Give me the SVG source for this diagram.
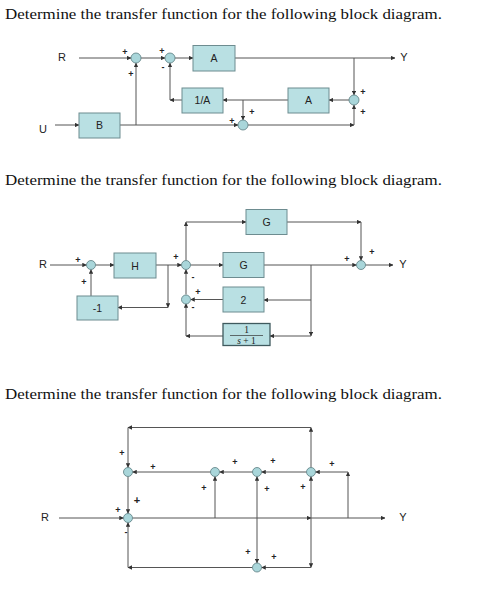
<svg xmlns="http://www.w3.org/2000/svg" width="499" height="592" viewBox="0 0 499 592">
<defs>
<marker id="ah" viewBox="0 0 8 8" refX="7.5" refY="4" markerWidth="4.5" markerHeight="4.5" orient="auto" markerUnits="userSpaceOnUse">
<path d="M0,0 L8,4 L0,8 z" fill="#333"/>
</marker>
<style>
.title{font-family:"Liberation Serif","Times New Roman",serif;font-size:15.5px;fill:#111}
.lbl{font-family:"Liberation Sans",Arial,sans-serif;font-size:11px;fill:#222;text-anchor:middle}
.bl{font-family:"Liberation Sans",Arial,sans-serif;font-size:10.5px;fill:#222;text-anchor:middle}
.sg{font-family:"Liberation Sans",Arial,sans-serif;font-size:9px;font-weight:bold;fill:#222;text-anchor:middle}
.blk{fill:#b9e0e3;stroke:#6d8c90;stroke-width:1}
.blkd{fill:#b9e0e3;stroke:#3f5a5e;stroke-width:1.3}
.sum{fill:#a9d6da;stroke:#5a7c80;stroke-width:0.8}
.c path{fill:none;stroke:#555;stroke-width:1;marker-end:url(#ah)}
</style>
</defs>
<rect width="499" height="592" fill="#fff"/>

<text class="title" x="5" y="19" textLength="437" lengthAdjust="spacingAndGlyphs">Determine the transfer function for the following block diagram.</text>
<text class="title" x="5" y="185" textLength="437" lengthAdjust="spacingAndGlyphs">Determine the transfer function for the following block diagram.</text>
<text class="title" x="5" y="399" textLength="437" lengthAdjust="spacingAndGlyphs">Determine the transfer function for the following block diagram.</text>

<!-- Diagram 1 -->
<g id="d1-connectors" class="c">
<path d="M79,58 H131"/>
<path d="M141,58 H165"/>
<path d="M175,58 H193"/>
<path d="M235,58 H395"/>
<path d="M354,58 V95"/>
<path d="M349,100 H329"/>
<path d="M288,100 H223"/>
<path d="M243,100 V120"/>
<path d="M182,100 H170"/>
<path d="M170,100 V63"/>
<path d="M55,125 H79"/>
<path d="M120,125 H238"/>
<path d="M136,125 V63"/>
<path d="M248,125 H354"/>
<path d="M354,125 V105"/>
</g>
<g id="d1-R"><text class="lbl" x="62" y="61">R</text></g>
<g id="d1-U"><text class="lbl" x="43" y="133">U</text></g>
<g id="d1-Y"><text class="lbl" x="404" y="61">Y</text></g>
<g id="d1-s1"><circle class="sum" cx="136" cy="58" r="5"/><text class="sg" x="125" y="55">+</text><text class="sg" x="131" y="77">+</text></g>
<g id="d1-s2"><circle class="sum" cx="170" cy="58" r="5"/><text class="sg" x="162" y="54">+</text><text class="sg" x="163" y="70">-</text></g>
<g id="d1-A1"><rect class="blk" x="193" y="45.5" width="42" height="25.5"/><text class="bl" x="214" y="62">A</text></g>
<g id="d1-invA"><rect class="blk" x="182" y="88" width="41" height="25"/><text class="bl" x="202.5" y="104">1/A</text></g>
<g id="d1-A2"><rect class="blk" x="288" y="88" width="41" height="25"/><text class="bl" x="308.5" y="104">A</text></g>
<g id="d1-s3"><circle class="sum" cx="354" cy="100" r="5"/><text class="sg" x="363" y="95">+</text><text class="sg" x="363" y="115">+</text></g>
<g id="d1-B"><rect class="blk" x="79" y="113" width="41" height="25"/><text class="bl" x="99.5" y="129">B</text></g>
<g id="d1-s4"><circle class="sum" cx="243" cy="125" r="5"/><text class="sg" x="232" y="124">+</text><text class="sg" x="252" y="115">+</text></g>

<!-- Diagram 2 -->
<g id="d2-connectors" class="c">
<path d="M50,265 H86.5"/>
<path d="M95.5,265 H114"/>
<path d="M156,265 H181.5"/>
<path d="M168,265 V307.5"/>
<path d="M168,307.5 H118"/>
<path d="M77,307.5 H91"/>
<path d="M91,307.5 V269.5"/>
<path d="M186,260.5 V222"/>
<path d="M186,222 H246"/>
<path d="M190.5,265 H223"/>
<path d="M287,222 H361"/>
<path d="M361,222 V260.5"/>
<path d="M264,265 H356.5"/>
<path d="M365.5,265 H393"/>
<path d="M311,265 V336"/>
<path d="M311,336 H270"/>
<path d="M311,300 H264"/>
<path d="M223,299.5 H190.5"/>
<path d="M223,336 H186"/>
<path d="M186,336 V303.5"/>
<path d="M186,294.5 V269.5"/>
</g>
<g id="d2-R"><text class="lbl" x="43" y="268">R</text></g>
<g id="d2-Y"><text class="lbl" x="403" y="268">Y</text></g>
<g id="d2-sa"><circle class="sum" cx="91" cy="265" r="4.5"/><text class="sg" x="78" y="263">+</text><text class="sg" x="84" y="285">+</text></g>
<g id="d2-H"><rect class="blk" x="114" y="253" width="42" height="25"/><text class="bl" x="135" y="269.5">H</text></g>
<g id="d2-m1"><rect class="blk" x="77" y="296" width="41" height="24"/><text class="bl" x="97.5" y="312">-1</text></g>
<g id="d2-sb"><circle class="sum" cx="186" cy="265" r="4.5"/><text class="sg" x="176" y="260">+</text><text class="sg" x="193" y="280">-</text></g>
<g id="d2-sc"><circle class="sum" cx="186" cy="299.5" r="4.5"/><text class="sg" x="198" y="295">+</text><text class="sg" x="193" y="310">-</text></g>
<g id="d2-Gt"><rect class="blk" x="246" y="209.5" width="41" height="25"/><text class="bl" x="266.5" y="226">G</text></g>
<g id="d2-Gm"><rect class="blk" x="223" y="252.5" width="41" height="25"/><text class="bl" x="243.5" y="269">G</text></g>
<g id="d2-2"><rect class="blk" x="223" y="287" width="41" height="25"/><text class="bl" x="243.5" y="303.5">2</text></g>
<g id="d2-tf"><rect class="blkd" x="223" y="323.5" width="47" height="22"/><text x="246.5" y="333" style="font-family:'Liberation Serif',serif;font-size:9.5px;text-anchor:middle;fill:#222">1</text><line x1="230" y1="335.5" x2="263" y2="335.5" stroke="#333" stroke-width="0.7"/><text x="246.5" y="344" style="font-family:'Liberation Serif',serif;font-size:9.5px;text-anchor:middle;fill:#222"><tspan font-style="italic">s</tspan> + 1</text></g>
<g id="d2-sd"><circle class="sum" cx="361" cy="265" r="4.5"/><text class="sg" x="347" y="262">+</text><text class="sg" x="372" y="255">+</text></g>

<!-- Diagram 3 -->
<g id="d3-connectors" class="c">
<path d="M59,518 H123.5"/>
<path d="M132.5,518 H311"/>
<path d="M311,518 H385"/>
<path d="M311,467.5 V427.5"/>
<path d="M311,427.5 H128"/>
<path d="M128,427.5 V467.5"/>
<path d="M210.5,472 H132.5"/>
<path d="M252.5,472 H219.5"/>
<path d="M306.5,472 H261.5"/>
<path d="M348,518 V472"/>
<path d="M348,472 H315.5"/>
<path d="M215,518 V476.5"/>
<path d="M128,476.5 V513.5"/>
<path d="M252.5,567.5 H128"/>
<path d="M128,567.5 V522.5"/>
<path d="M257,518 V476.5"/>
<path d="M257,518 V563"/>
<path d="M311,518 V476.5"/>
<path d="M311,518 V567.5"/>
<path d="M311,567.5 H261.5"/>
</g>
<g id="d3-R"><text class="lbl" x="45" y="521">R</text></g>
<g id="d3-Y"><text class="lbl" x="403" y="521">Y</text></g>
<g id="d3-sm"><circle class="sum" cx="128" cy="518" r="4.5"/><text class="sg" x="118" y="513">+</text><text class="sg" x="126" y="535">-</text><text class="sg" x="137" y="504" style="font-size:11px">+</text></g>
<g id="d3-sA"><circle class="sum" cx="128" cy="472" r="4.5"/><text class="sg" x="122" y="456">+</text><text class="sg" x="153" y="470">+</text></g>
<g id="d3-sB"><circle class="sum" cx="215" cy="472" r="4.5"/><text class="sg" x="204" y="491">+</text><text class="sg" x="235" y="465">+</text></g>
<g id="d3-sC"><circle class="sum" cx="257" cy="472" r="4.5"/><text class="sg" x="273" y="464">+</text><text class="sg" x="267" y="492">+</text></g>
<g id="d3-sD"><circle class="sum" cx="311" cy="472" r="4.5"/><text class="sg" x="332" y="467">+</text><text class="sg" x="303" y="490">+</text></g>
<g id="d3-sE"><circle class="sum" cx="257" cy="567.5" r="4.5"/><text class="sg" x="248" y="555">+</text><text class="sg" x="274" y="560">+</text></g>
</svg>
